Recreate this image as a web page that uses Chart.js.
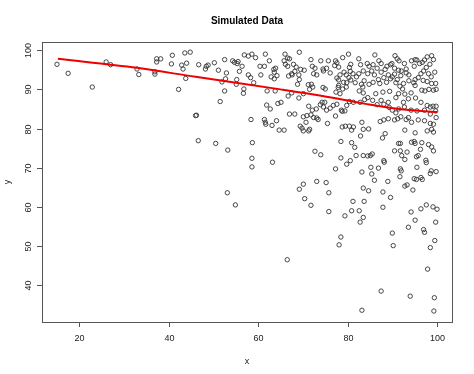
<!DOCTYPE html>
<html>
<head>
<meta charset="utf-8">
<script src="https://cdn.jsdelivr.net/npm/chart.js@4/dist/chart.umd.min.js"></script>
<style>
  html, body { margin: 0; padding: 0; background: #fff; }
  canvas { display: block; }
</style>
</head>
<body>
<canvas id="chart" width="474" height="374"></canvas>
<script>
// values
const xValues = [
  15.0,17.5,22.9,26.0,27.0,32.9,33.3,36.9,36.9,37.3,
  37.3,38.2,40.8,40.6,42.2,42.9,43.2,43.6,44.0,43.8,
  44.8,46.0,46.2,46.7,46.6,50.5,53.2,53.1,58.7,58.6,
  58.6,63.2,54.9,66.5,
  48.4,48.8,48.2,50.2,51.1,52.5,52.9,51.9,52.7,52.5,
  51.5,54.3,54.7,55.3,55.5,56.4,55.8,55.2,55.1,56.9,
  57.8,58.6,59.4,57.8,58.3,59.0,56.8,56.7,60.4,61.4,
  61.6,62.5,60.6,63.5,63.9,63.6,62.9,63.6,64.2,62.0,
  63.8,61.9,62.7,64.4,58.4,61.4,61.6,61.7,64.1,63.1,
  64.7,
  66.0,66.6,65.8,67.0,66.1,66.6,67.9,68.5,69.2,69.5,
  70.3,68.2,67.5,66.8,67.6,69.1,69.2,68.8,71.8,72.1,
  72.7,72.4,73.1,74.0,74.5,74.6,75.3,76.1,75.7,77.3,
  77.6,77.1,78.0,78.9,78.3,79.2,79.7,80.2,80.7,80.4,
  80.6,81.2,80.3,80.7,82.0,82.5,82.9,83.5,82.5,83.7,
  81.7,83.1,83.4,82.6,83.5,79.8,79.7,79.1,78.0,77.6,
  78.0,78.9,77.4,78.3,77.9,71.9,72.2,71.5,71.2,74.5,
  75.0,70.1,69.1,67.5,66.7,65.1,71.3,73.0,72.1,73.9,
  74.3,74.9,74.6,75.3,76.1,76.8,77.6,78.6,78.8,79.4,
  79.8,80.4,81.3,82.8,83.8,67.0,68.2,70.1,70.9,71.8,
  72.4,73.1,73.4,70.7,69.4,69.8,71.5,71.3,75.5,77.3,
  78.8,79.5,80.4,81.3,80.9,83.2,83.5,65.8,70.1,
  86.1,84.4,84.8,85.7,87.0,87.5,86.6,85.4,84.5,86.0,
  87.5,88.4,88.8,89.6,89.9,89.1,90.6,91.1,91.5,90.5,
  91.4,92.0,90.5,88.1,86.9,85.7,84.8,87.2,88.7,89.6,
  90.0,91.1,90.8,91.9,92.7,93.1,93.1,93.7,93.7,92.5,
  91.7,92.3,94.3,95.1,95.5,94.9,96.1,96.7,97.2,97.8,
  98.8,99.2,98.4,97.6,97.0,96.4,98.1,98.7,99.5,95.8,
  95.1,94.8,96.9,97.8,98.8,99.7,99.8,99.2,98.2,97.3,
  96.6,95.1,94.2,92.8,91.4,89.4,87.9,86.3,84.5,85.6,
  86.6,87.5,89.1,90.8,92.5,93.6,95.2,96.4,97.8,98.5,
  99.1,99.8,99.7,98.5,97.2,95.5,94.2,92.7,91.4,90.8,
  90.0,89.3,88.1,87.3,88.1,89.1,90.5,91.2,91.9,93.1,
  93.6,94.3,95.8,97.2,98.5,99.2,99.8,98.8,84.7,88.4,
  92.8,95.1,97.8,99.2,
  78.5,80.9,81.6,83.5,81.9,80.6,79.8,78.5,77.3,72.7,
  74.0,83.2,83.5,70.1,69.2,73.1,75.2,75.8,70.4,71.8,
  81.2,80.9,82.6,83.7,75.8,79.4,83.5,82.8,82.9,
  87.8,91.4,91.8,90.5,91.8,92.1,93.3,92.8,94.3,94.9,
  95.1,96.6,98.1,98.8,99.2,96.3,95.8,95.4,97.5,97.6,
  85.1,85.5,84.5,88.1,88.2,85.2,86.9,85.4,86.0,89.0,
  91.8,92.0,91.7,92.8,93.3,94.9,95.4,96.7,95.5,96.4,
  98.5,99.8,98.7,94.6,84.7,87.9,89.6,87.9,94.2,96.4,
  97.6,99.1,100.0,95.1,99.7,
  78.5,78.1,90.0,90.2,93.6,97.0,97.2,99.5,98.5,97.9,
  87.5,94.0,99.4,83.2,99.3
];
const yValues = [
  96.4,94.1,90.6,97.0,96.3,95.2,93.8,94.5,93.9,97.8,
  97.0,97.8,98.7,96.5,90.0,96.2,95.2,99.3,96.7,92.8,
  99.5,83.3,83.4,96.3,76.9,76.2,74.5,63.6,76.4,72.4,
  70.2,71.4,60.5,46.5,
  95.9,96.2,95.2,96.8,94.9,97.6,94.2,91.9,92.7,89.6,
  86.9,97.3,96.9,96.6,97.1,95.9,94.6,92.5,91.3,98.8,
  98.5,99.0,98.1,93.7,93.0,91.7,90.1,89.0,95.9,95.9,
  99.0,97.3,93.7,95.1,95.4,94.4,93.2,92.7,93.5,89.6,
  89.6,86.0,85.0,86.4,82.3,82.3,81.6,81.1,82.0,80.8,
  79.6,
  99.0,98.0,97.3,97.8,96.4,95.9,96.4,95.7,99.5,95.1,
  94.9,94.6,94.0,93.4,93.7,93.7,92.5,91.3,97.6,95.9,
  95.4,94.0,93.7,97.3,95.2,94.7,95.4,94.2,97.3,97.3,
  96.8,96.1,95.7,98.1,93.7,94.4,93.7,99.0,96.4,95.6,
  94.6,94.0,93.0,92.4,93.2,94.0,96.3,94.7,97.8,92.2,
  91.7,91.3,90.6,89.6,89.1,91.7,90.6,91.8,92.4,92.9,
  91.0,90.1,89.3,88.9,90.5,91.3,90.6,90.0,91.2,90.5,
  90.1,88.9,87.8,89.1,88.3,86.7,85.7,85.0,84.7,86.1,
  86.7,86.7,85.5,84.7,85.2,85.9,86.2,84.7,84.4,84.5,
  85.9,86.9,86.7,86.7,87.4,83.7,83.7,83.0,83.3,83.5,
  82.8,82.7,82.3,81.6,80.6,80.1,79.8,79.4,81.3,83.2,
  80.4,80.6,80.6,80.4,79.6,81.6,79.8,79.6,79.4,
  98.8,96.6,95.9,96.3,97.3,96.6,95.4,94.7,94.0,93.7,
  94.4,95.1,95.9,96.3,96.6,93.7,98.6,97.8,97.3,95.4,
  94.9,94.7,93.9,93.0,92.5,91.8,91.3,91.5,91.8,92.7,
  93.2,92.5,91.7,93.5,96.6,95.2,94.2,93.7,92.2,91.5,
  90.8,90.1,97.3,97.6,97.5,95.9,96.6,96.9,97.5,98.3,
  98.6,97.6,96.4,95.6,94.7,94.0,94.0,93.2,94.4,93.0,
  92.5,91.7,92.3,92.0,91.5,91.5,90.0,89.8,90.0,89.6,
  89.8,91.0,89.1,88.8,88.9,89.5,89.3,88.9,87.9,87.2,
  86.1,87.2,86.7,87.9,86.7,87.6,87.8,86.7,85.9,85.5,
  85.7,85.7,84.5,83.7,84.7,84.5,84.7,85.5,85.0,84.0,
  84.7,85.4,86.2,81.8,82.2,82.5,82.2,82.5,83.0,82.3,
  82.8,81.6,82.2,82.0,81.3,81.1,82.8,79.8,79.9,78.7,
  79.6,78.9,79.4,79.1,
  76.7,76.4,75.2,73.1,73.1,71.8,70.9,72.5,69.7,74.2,
  73.3,68.9,64.8,65.8,64.5,66.5,66.2,63.6,62.1,60.4,
  61.4,59.0,59.0,61.4,58.8,57.7,57.3,56.1,78.1,
  77.6,76.2,76.2,74.3,74.3,73.1,74.0,72.1,76.5,76.7,
  76.2,76.4,75.9,75.3,74.3,74.7,73.1,72.8,71.9,71.3,
  73.1,73.5,73.0,71.8,71.4,70.1,69.9,68.4,66.8,66.5,
  69.7,69.2,67.7,65.3,65.6,67.2,67.0,67.0,70.1,67.5,
  68.5,69.0,69.2,64.3,64.1,63.8,62.4,59.9,58.7,59.5,
  60.5,60.0,59.4,56.6,56.1,
  52.3,50.3,53.3,50.1,54.8,54.2,53.5,51.4,49.6,44.1,
  38.5,37.2,36.8,33.6,33.4
];

// smoothed trend line
const fitX = [15.2, 32.9, 46.0, 65.0, 74.4, 84.0, 91.4, 100.0];
const fitY = [97.8, 95.5, 93.2, 90.0, 88.3, 86.3, 85.0, 84.2];

const xTicks = [20, 40, 60, 80, 100];
const yTicks = [40, 50, 60, 70, 80, 90, 100];

const FONT = '"Liberation Sans", Arial, sans-serif';

// R-style box, ticks and labels
const baseGraphics = {
  id: 'baseGraphics',
  afterDraw(chart) {
    const ctx = chart.ctx;
    const a = chart.chartArea;
    const xs = chart.scales.x;
    const ys = chart.scales.y;
    ctx.save();
    ctx.strokeStyle = '#555';
    ctx.lineWidth = 1;
    ctx.strokeRect(Math.round(a.left) + 0.5, Math.round(a.top) + 0.5,
      Math.round(a.right - a.left), Math.round(a.bottom - a.top));

    ctx.fillStyle = '#222';
    ctx.font = '9px ' + FONT;
    ctx.textAlign = 'center';
    ctx.textBaseline = 'middle';
    xTicks.forEach(v => {
      const px = Math.round(xs.getPixelForValue(v)) + 0.5;
      ctx.beginPath();
      ctx.moveTo(px, a.bottom);
      ctx.lineTo(px, a.bottom + 5);
      ctx.stroke();
      ctx.fillText(String(v), px, 339);
    });
    yTicks.forEach(v => {
      const py = Math.round(ys.getPixelForValue(v)) + 0.5;
      ctx.beginPath();
      ctx.moveTo(a.left, py);
      ctx.lineTo(a.left - 5, py);
      ctx.stroke();
      ctx.save();
      ctx.translate(29, py);
      ctx.rotate(-Math.PI / 2);
      ctx.fillText(String(v), 0, 0);
      ctx.restore();
    });

    ctx.fillText('x', (a.left + a.right) / 2, 362);
    ctx.save();
    ctx.translate(8, (a.top + a.bottom) / 2);
    ctx.rotate(-Math.PI / 2);
    ctx.fillText('y', 0, 0);
    ctx.restore();

    ctx.fillStyle = '#000';
    ctx.font = 'bold 10px ' + FONT;
    ctx.fillText('Simulated Data', (a.left + a.right) / 2, 21);
    ctx.restore();
  }
};

new Chart(document.getElementById('chart'), {
  type: 'scatter',
  data: {
    datasets: [{
      type: 'line',
      data: fitX.map((x, i) => ({ x, y: fitY[i] })),
      borderColor: '#ee0000',
      borderWidth: 2,
      pointRadius: 0,
      fill: false,
      cubicInterpolationMode: 'monotone',
      order: 0
    }, {
      data: xValues.map((x, i) => ({ x, y: yValues[i] })),
      pointStyle: 'circle',
      pointRadius: 2.2,
      borderWidth: 0.9,
      borderColor: '#333',
      backgroundColor: 'rgba(0,0,0,0)',
      order: 1
    }]
  },
  plugins: [baseGraphics],
  options: {
    responsive: false,
    animation: false,
    layout: { padding: { left: 42, right: 22, top: 42, bottom: 52 } },
    plugins: { legend: { display: false }, tooltip: { enabled: false } },
    scales: {
      x: { type: 'linear', min: 11.65, max: 103.35, display: false },
      y: { type: 'linear', min: 30.6, max: 102.1, display: false }
    }
  }
});
</script>
</body>
</html>
